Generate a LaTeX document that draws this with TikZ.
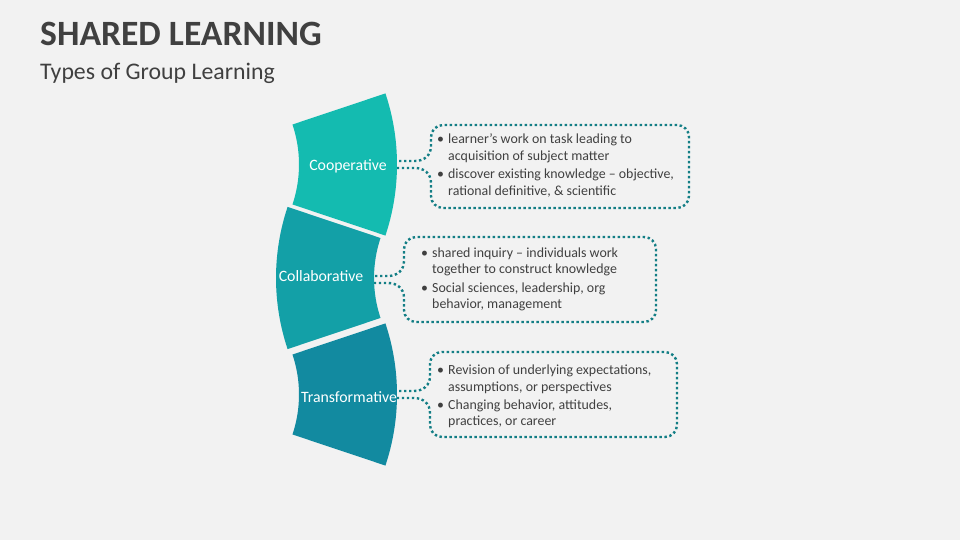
\documentclass[tikz,border=0pt]{standalone}
\usepackage{fontspec}
\setmainfont{Carlito}
\usetikzlibrary{positioning,calc}
\definecolor{pagebg}{HTML}{F2F2F2}
\definecolor{ink}{HTML}{404040}
\definecolor{coopteal}{HTML}{14BBB0}
\definecolor{collteal}{HTML}{13A0A7}
\definecolor{transteal}{HTML}{128AA0}
\definecolor{dotteal}{HTML}{137E85}
\tikzset{
  every node/.style={text=ink},
  seglabel/.style={text=white,inner sep=0pt,font=\fontsize{15.8}{18}\selectfont},
  dotline/.style={draw=dotteal,line width=2.4pt,dash pattern=on 2.4pt off 2.6pt},
  bullets/.style={align=left,inner sep=0pt,font=\fontsize{13.9}{16.4}\selectfont},
  heading/.style={anchor=base west,inner sep=0pt,font=\fontsize{35.6}{40}\selectfont\bfseries},
  subheading/.style={anchor=base west,inner sep=0pt,font=\fontsize{23.8}{27}\selectfont}
}
% bullet with hanging second line
\newcommand{\bitem}[2]{\makebox[11pt][l]{\textbullet}#1\\\hspace*{11pt}#2}
% dotted callout: tip x, left, right, top, bottom, mid y
\newcommand{\bubble}[6]{%
  \draw[dotline] (#1,#6+3.5) -- (#2-16,#6+3.5)
    .. controls (#2-7,#6+3.5) and (#2,#6+9) .. (#2,#6+18.5)
    -- (#2,#4-12) arc[start angle=180,end angle=90,radius=12pt] -- (#3-12,#4)
    arc[start angle=90,end angle=0,radius=12pt] -- (#3,#5+12)
    arc[start angle=0,end angle=-90,radius=12pt] -- (#2+12,#5)
    arc[start angle=-90,end angle=-180,radius=12pt] -- (#2,#6-18.5)
    .. controls (#2,#6-9) and (#2-7,#6-3.5) .. (#2-16,#6-3.5) -- (#1,#6-3.5);}

\begin{document}
\begin{tikzpicture}[x=1pt,y=1pt]
  \fill[pagebg] (0,0) rectangle (960,540);
  \useasboundingbox (0,0) rectangle (960,540);

  \node[heading] (title) at (40,494) {SHARED LEARNING};
  \node[subheading] (subtitle) at (40,460) {Types of Group Learning};

  % callouts first, the segments hide their tips
  \bubble{394}{431}{689}{415}{332}{375.5}
  \bubble{370}{404}{656}{303}{218}{260.5}
  \bubble{394}{430}{677}{188}{103}{145.5}

  \coordinate (ccoop) at (173,375.5);
  \coordinate (ccoll) at (500,262);
  \coordinate (ctrans) at (173,145.5);

  \fill[coopteal] ($(ccoop)+(-18.5:224pt)$) arc[start angle=-18.5,end angle=18.5,radius=224pt]
    -- ($(ccoop)+(18.5:126pt)$) arc[start angle=18.5,end angle=-18.5,radius=126pt] -- cycle;
  \fill[collteal] ($(ccoll)+(161.5:224pt)$) arc[start angle=161.5,end angle=198.5,radius=224pt]
    -- ($(ccoll)+(198.5:126pt)$) arc[start angle=198.5,end angle=161.5,radius=126pt] -- cycle;
  \fill[transteal] ($(ctrans)+(-18.5:224pt)$) arc[start angle=-18.5,end angle=18.5,radius=224pt]
    -- ($(ctrans)+(18.5:126pt)$) arc[start angle=18.5,end angle=-18.5,radius=126pt] -- cycle;

  \node[seglabel] (coop) at (348,374) {Cooperative};
  \node[seglabel] (coll) at (321,264) {Collaborative};
  \node[seglabel] (trans) at (349,143) {Transformative};

  \node[bullets,anchor=west] (coopnote) at (437,374.5)
    {\bitem{learner’s work on task leading to}{acquisition of subject matter}\\[2pt]
     \bitem{discover existing knowledge -- objective,}{rational definitive, \& scientific}};
  \node[bullets,anchor=west] (collnote) at (421,260.5)
    {\bitem{shared inquiry -- individuals work}{together to construct knowledge}\\[2pt]
     \bitem{Social sciences, leadership, org}{behavior, management}};
  \node[bullets,anchor=west] (transnote) at (437,143.5)
    {\bitem{Revision of underlying expectations,}{assumptions, or perspectives}\\[2pt]
     \bitem{Changing behavior, attitudes,}{practices, or career}};
\end{tikzpicture}
\end{document}
